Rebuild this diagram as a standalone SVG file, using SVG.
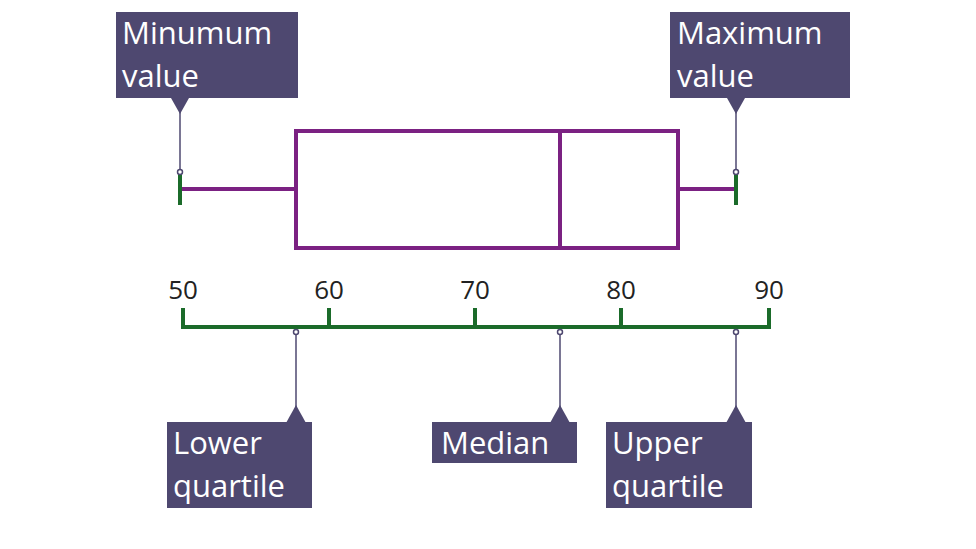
<svg xmlns="http://www.w3.org/2000/svg" width="976" height="549" viewBox="0 0 976 549">
<style>
.lbl{fill:#4e4870}
.lt{fill:#fff;font-family:"Open Sans","Liberation Sans",sans-serif;font-size:31px}
.ax{font-family:"Open Sans","Liberation Sans",sans-serif;font-size:26px;fill:#222;text-anchor:middle}
.g{stroke:#1b6b2a;stroke-width:4;fill:none}
.p{stroke:#7b2182;stroke-width:4;fill:none}
.ln{stroke:#4e4870;stroke-width:1.5}
.dot{fill:#fff;stroke:#4e4870;stroke-width:1.5}
</style>
<rect width="976" height="549" fill="#fff"/>
<g id="plot">
<line class="p" x1="180" y1="189" x2="296" y2="189"/>
<rect class="p" x="296" y="131" width="382" height="117"/>
<line class="p" x1="560" y1="131" x2="560" y2="248"/>
<line class="p" x1="678" y1="189" x2="736" y2="189"/>
<line class="g" x1="180" y1="172" x2="180" y2="205"/>
<line class="g" x1="736" y1="172" x2="736" y2="205"/>
</g>
<g id="axis">
<path class="g" d="M183 308V327H769V308M329 308V327M475 308V327M621 308V327"/>
<text class="ax" x="183" y="299">50</text>
<text class="ax" x="329" y="299">60</text>
<text class="ax" x="475" y="299">70</text>
<text class="ax" x="621" y="299">80</text>
<text class="ax" x="769" y="299">90</text>
</g>
<g id="connectors">
<line class="ln" x1="180" y1="110" x2="180" y2="172"/>
<line class="ln" x1="736" y1="110" x2="736" y2="172"/>
<line class="ln" x1="296" y1="332" x2="296" y2="410"/>
<line class="ln" x1="560" y1="332" x2="560" y2="410"/>
<line class="ln" x1="736" y1="332" x2="736" y2="410"/>
<circle class="dot" cx="180" cy="172" r="2.5"/>
<circle class="dot" cx="736" cy="172" r="2.5"/>
<circle class="dot" cx="296" cy="332" r="2.5"/>
<circle class="dot" cx="560" cy="332" r="2.5"/>
<circle class="dot" cx="736" cy="332" r="2.5"/>
</g>
<g id="min">
<rect class="lbl" x="116" y="12" width="182" height="86"/>
<path class="lbl" d="M171 98L180 114L189 98Z"/>
<text class="lt" x="122" y="44">Minumum</text>
<text class="lt" x="122" y="87">value</text>
</g>
<g id="max">
<rect class="lbl" x="670" y="12" width="180" height="86"/>
<path class="lbl" d="M727 98L736 114L745 98Z"/>
<text class="lt" x="677" y="44">Maximum</text>
<text class="lt" x="677" y="87">value</text>
</g>
<g id="lq">
<rect class="lbl" x="167" y="422" width="145" height="86"/>
<path class="lbl" d="M286 423L296 405L306 423Z"/>
<text class="lt" x="173" y="454">Lower</text>
<text class="lt" x="173" y="497">quartile</text>
</g>
<g id="med">
<rect class="lbl" x="432" y="422" width="145" height="41"/>
<path class="lbl" d="M550 423L560 405L570 423Z"/>
<text class="lt" x="441" y="454">Median</text>
</g>
<g id="uq">
<rect class="lbl" x="606" y="422" width="146" height="86"/>
<path class="lbl" d="M726 423L736 405L746 423Z"/>
<text class="lt" x="612" y="454">Upper</text>
<text class="lt" x="612" y="497">quartile</text>
</g>
</svg>
